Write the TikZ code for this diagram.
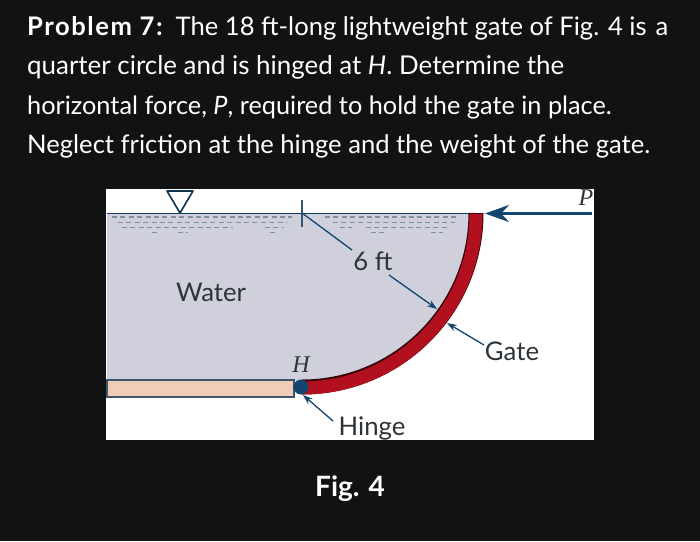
\documentclass[tikz,border=0pt]{standalone}
\usepackage{fontspec}
\setmainfont{Lato}
\newfontfamily\serifcap{Liberation Serif}
\newfontfamily\spacedbold[LetterSpace=6]{Lato Bold}
\newfontfamily\capbold{Lato Bold}
\usetikzlibrary{arrows.meta}
\definecolor{bgdark}{HTML}{111213}
\definecolor{waterc}{HTML}{CFD0DC}
\definecolor{navy}{HTML}{12466E}
\definecolor{slabc}{HTML}{F0CDB8}
\definecolor{gatered}{HTML}{B2101E}
\definecolor{dashc}{HTML}{7E8FA0}
\definecolor{labelc}{HTML}{2E3338}
\tikzset{
 para/.style={anchor=base west,text=white,font=\fontsize{25.6}{25.6}\selectfont,inner sep=0pt},
 figlabel/.style={text=labelc,font=\fontsize{25.7}{25.7}\selectfont,inner sep=0pt,anchor=base},
 ital/.style={text=labelc,font=\serifcap\itshape\fontsize{24}{24}\selectfont,inner sep=0pt,anchor=base},
 leader/.style={draw=navy,line width=1.3pt,-{Stealth[length=10pt,width=7pt]}},
 plainline/.style={draw=navy,line width=1.3pt},
 wave/.style={draw=dashc,line width=1.6pt,dash pattern=on 5pt off 3.4pt},
}
\begin{document}
\begin{tikzpicture}[x=1pt,y=-1pt]
\useasboundingbox (0,0) rectangle (700,541);
\fill[bgdark] (0,0) rectangle (700,541);
\fill[white] (106,189) rectangle (594,440);
% water
\fill[waterc] (107,213) -- (470,213) arc[start angle=0,end angle=90,x radius=168,y radius=168] -- (107,381) -- cycle;
% waves
\draw[wave] (112,217) -- (292,217);
\draw[wave] (325,217) -- (458,217);
\draw[wave] (118,222.5) -- (287,222.5);
\draw[wave] (333,222.5) -- (455,222.5);
\draw[wave] (122,227.5) -- (233,227.5);
\draw[wave] (265,227.5) -- (284,227.5);
\draw[wave] (340,227.5) -- (352,227.5);
\draw[wave] (366,227.5) -- (448,227.5);
\draw[wave] (152,232.5) -- (160,232.5);
\draw[wave] (178,232.5) -- (188,232.5);
\draw[wave] (270,232.5) -- (277,232.5);
\draw[wave] (371,232.5) -- (385,232.5);
\draw[wave] (431,232.5) -- (443,232.5);
% surface line
\coordinate (surfL) at (107,213.5);
\coordinate (surfR) at (470,213.5);
\draw[navy!85!black,line width=1.6pt] (surfL) -- (surfR);
% triangle
\draw[navy!70!black,line width=1.6pt,line join=round] (167,191) -- (193,191) -- (180,213) -- cycle;
% tick
\coordinate (tickT) at (302,200);
\coordinate (tickB) at (302,227);
\draw[navy!70!gray,line width=1.3pt] (tickT) -- (tickB);
% slab
\fill[slabc,draw=black!20!navy!60!gray,line width=1.5pt] (107,380) rectangle (294,397);
% gate
\draw[black!70!gatered,line width=15pt] (476,213) arc[start angle=0,end angle=90,x radius=174,y radius=174];
\draw[gatered,line width=13pt] (476,214) arc[start angle=0,end angle=90,x radius=174,y radius=174];
% hinge
\node[circle,fill=navy,inner sep=0pt,minimum size=15pt] (hinge) at (301,387) {};
% force
\coordinate (pStart) at (592,213.5);
\coordinate (pEnd) at (485,213.5);
\draw[navy,line width=3.4pt,-{Stealth[length=24pt,width=17pt,inset=8pt]}] (pStart) -- (pEnd);
% labels
\node[ital] (labP) at (586,205) {P};
\node[ital] (labH) at (301,372) {H};
\node[figlabel] (water) at (211,301) {Water};
\node[figlabel] (six) at (373,270) {6 ft};
\node[figlabel] (gatel) at (512,360) {Gate};
\node[figlabel] (hingel) at (372,435) {Hinge};
\coordinate (cen) at (302,213);
\coordinate (sixA) at (352,250);
\coordinate (sixB) at (389,275);
\coordinate (sixC) at (437,309);
\coordinate (gateA) at (484,345);
\coordinate (gateB) at (447,323);
\coordinate (hingeA) at (333,421);
\coordinate (hingeB) at (303,395);
\draw[plainline] (cen) -- (sixA);
\draw[leader] (sixB) -- (sixC);
\draw[leader] (gateA) -- (gateB);
\draw[leader] (hingeA) -- (hingeB);
% text
\node[para] (l1) at (27,35) {{\spacedbold Problem 7:}\hspace{13pt}The 18 ft-long lightweight gate of Fig. 4 is\hspace{9pt}a};
\node[para,font=\fontsize{25.9}{25.9}\selectfont] (l2) at (27,74.5) {quarter circle and is hinged at \textit{H}. Determine the};
\node[para,font=\fontsize{25.3}{25.3}\selectfont] (l3) at (27,114) {horizontal force, \textit{P}, required to hold the gate in place.};
\node[para] (l4) at (27,153) {Neglect friction at the hinge and the weight of the gate.};
\node[para,anchor=base,font=\capbold\fontsize{28}{28}\selectfont] (figc) at (350,496) {Fig. 4};
\end{tikzpicture}
\end{document}
